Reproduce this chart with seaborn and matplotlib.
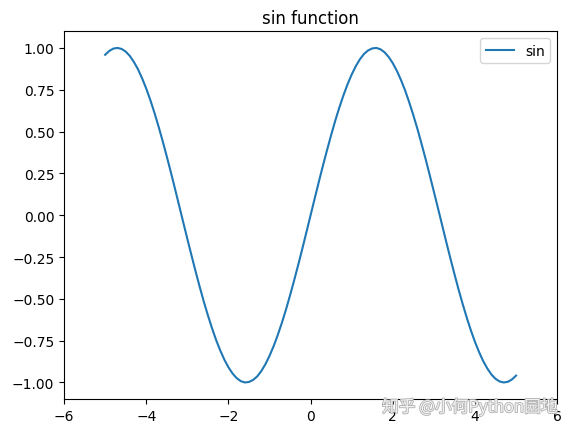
import matplotlib
matplotlib.use("Agg")
import matplotlib.pyplot as plt
import matplotlib.patheffects as pe
import seaborn as sns
import pandas as pd

x_vals = [-5.0, -4.9, -4.8, -4.7, -4.6, -4.5, -4.4, -4.3, -4.2, -4.1,
          -4.0, -3.9, -3.8, -3.7, -3.6, -3.5, -3.4, -3.3, -3.2, -3.1,
          -3.0, -2.9, -2.8, -2.7, -2.6, -2.5, -2.4, -2.3, -2.2, -2.1,
          -2.0, -1.9, -1.8, -1.7, -1.6, -1.5, -1.4, -1.3, -1.2, -1.1,
          -1.0, -0.9, -0.8, -0.7, -0.6, -0.5, -0.4, -0.3, -0.2, -0.1,
          0.0, 0.1, 0.2, 0.3, 0.4, 0.5, 0.6, 0.7, 0.8, 0.9,
          1.0, 1.1, 1.2, 1.3, 1.4, 1.5, 1.6, 1.7, 1.8, 1.9,
          2.0, 2.1, 2.2, 2.3, 2.4, 2.5, 2.6, 2.7, 2.8, 2.9,
          3.0, 3.1, 3.2, 3.3, 3.4, 3.5, 3.6, 3.7, 3.8, 3.9,
          4.0, 4.1, 4.2, 4.3, 4.4, 4.5, 4.6, 4.7, 4.8, 4.9, 5.0]
sin_vals = [0.959, 0.982, 0.996, 1.000, 0.994, 0.978, 0.952, 0.916, 0.872, 0.818,
            0.757, 0.688, 0.612, 0.530, 0.443, 0.351, 0.256, 0.158, 0.058, -0.042,
            -0.141, -0.239, -0.335, -0.427, -0.516, -0.598, -0.675, -0.746, -0.808, -0.863,
            -0.909, -0.946, -0.974, -0.992, -1.000, -0.997, -0.985, -0.964, -0.932, -0.891,
            -0.841, -0.783, -0.717, -0.644, -0.565, -0.479, -0.389, -0.296, -0.199, -0.100,
            0.000, 0.100, 0.199, 0.296, 0.389, 0.479, 0.565, 0.644, 0.717, 0.783,
            0.841, 0.891, 0.932, 0.964, 0.985, 0.997, 1.000, 0.992, 0.974, 0.946,
            0.909, 0.863, 0.808, 0.746, 0.675, 0.598, 0.516, 0.427, 0.335, 0.239,
            0.141, 0.042, -0.058, -0.158, -0.256, -0.351, -0.443, -0.530, -0.612, -0.688,
            -0.757, -0.818, -0.872, -0.916, -0.952, -0.978, -0.994, -1.000, -0.996, -0.982, -0.959]
series_label = "sin"
title_text = "sin function"
x_ticks = [-6, -4, -2, 0, 2, 4, 6]
watermark = "知乎 @小何Python园地"

df = pd.DataFrame({"x": x_vals, "y": sin_vals})

fig = plt.figure(figsize=(5.72, 4.35), dpi=100)
ax = fig.add_axes([0.112, 0.080, 0.862, 0.846])
sns.lineplot(data=df, x="x", y="y", ax=ax, label=series_label, color="#1f77b4")
ax.set_xlim(-6, 6)
ax.set_xticks(x_ticks)
ax.set_xlabel("")
ax.set_ylabel("")
ax.set_title(title_text)
ax.legend(loc="upper right")

fig.text(0.668, 0.062, watermark, fontsize=12, color="#f2f2f2",
         family=["Noto Sans CJK SC", "DejaVu Sans"], va="center", zorder=10,
         path_effects=[pe.withStroke(linewidth=1.2, foreground="#b0b0b0")])

fig.savefig("out.png", dpi=100)
